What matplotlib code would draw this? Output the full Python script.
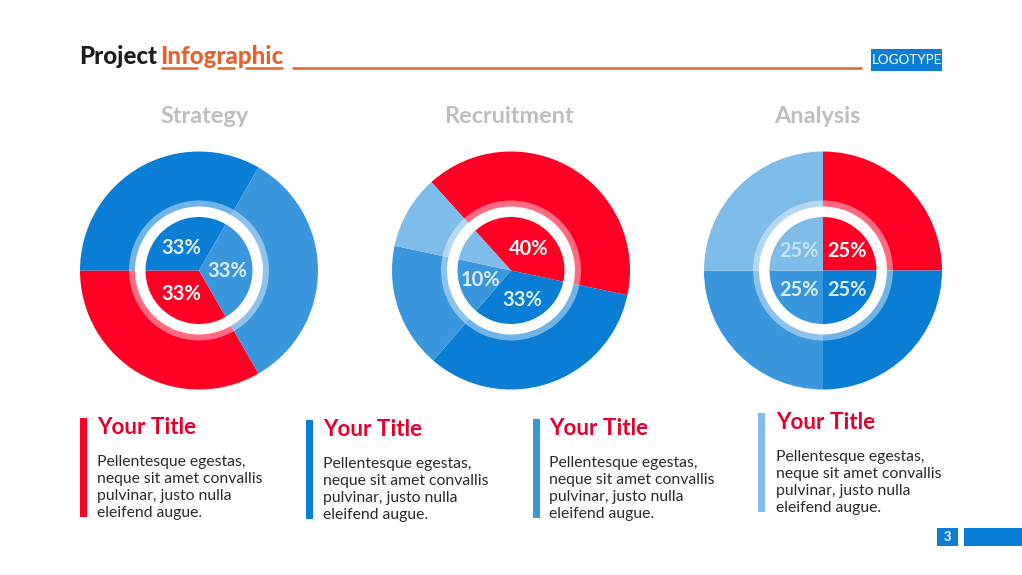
import matplotlib
matplotlib.use("Agg")
import matplotlib.pyplot as plt
from matplotlib.patches import Rectangle

W, H = 1022, 575

DARK = "#0a7ed4"
MID = "#3b97dd"
LIGHT = "#7fbce9"
RED = "#ff0025"
ORANGE = "#e5622d"
GREY = "#bfbfba"
PALE = "#dceefb"

pie_titles = ["Strategy", "Recruitment", "Analysis"]
strategy_values = [33, 33, 33]
recruitment_values = [40, 33, 17, 10]
analysis_values = [25, 25, 25, 25]
strategy_labels = ["33%", "33%", "33%"]
recruitment_labels = ["40%", "33%", "10%", ""]
analysis_labels = ["25%", "25%", "25%", "25%"]
card_title = "Your Title"
card_text = ["Pellentesque egestas,", "neque sit amet convallis", "pulvinar, justo nulla", "eleifend augue."]

# center x, start angle, colors, values, labels, label positions in pixels, label colors
PIES = [
    (199, 300, [RED, DARK, MID], strategy_values, strategy_labels,
     [(181, 294), (181, 248), (227, 271)], ["white", PALE, PALE]),
    (511, 132, [RED, DARK, MID, LIGHT], recruitment_values, recruitment_labels,
     [(529, 249), (522, 300), (480, 280), (0, 0)], ["white", PALE, PALE, PALE]),
    (823, 90, [RED, DARK, MID, LIGHT], analysis_values, analysis_labels,
     [(847, 251), (847, 290), (799, 290), (799, 251)], ["white", PALE, PALE, "#c9e2f5"]),
]
TITLE_X = [205, 509, 817]
# bar x, bar top, title x, title baseline, bar color
CARDS = [
    (80, 418, 97, 434, RED),
    (306, 420, 323, 436, DARK),
    (533, 419, 549, 435, MID),
    (758, 413, 776, 429, LIGHT),
]

plt.rcParams["font.family"] = ["Lato", "DejaVu Sans"]


def px(size):
    return size * 0.72


def y_(py):
    return H - py


fig = plt.figure(figsize=(W / 100, H / 100), dpi=100, facecolor="white")
ax = fig.add_axes([0, 0, 1, 1])

for cx, start, colors, values, labels, label_pos, label_colors in PIES:
    center = (cx, y_(270.5))
    ax.pie(values, colors=colors, startangle=start, counterclock=False,
           center=center, radius=119, normalize=True)
    # translucent halo and white ring over the slices
    ax.pie([1], colors=["white"], center=center, radius=70,
           wedgeprops=dict(width=6.5, alpha=0.42, linewidth=0))
    ax.pie([1], colors=["white"], center=center, radius=64,
           wedgeprops=dict(width=10.5, linewidth=0))
    for label, (lx, ly), lc in zip(labels, label_pos, label_colors):
        if label:
            ax.text(lx, y_(ly), label, color=lc, fontsize=px(20), fontweight="bold",
                    ha="center", va="center")

ax.set_xlim(0, W)
ax.set_ylim(0, H)
ax.set_aspect("auto")
ax.axis("off")

# header
ax.text(79, y_(64), "Project", color="#1c1c1c", fontsize=px(24), fontweight="black")
ax.text(160, y_(64), "Infographic", color=ORANGE, fontsize=px(24), fontweight="black")
for x0, x1 in [(161, 198), (217, 235), (245, 283), (292, 862)]:
    ax.plot([x0, x1], [y_(68), y_(68)], color=ORANGE, lw=1.8, solid_capstyle="butt")

ax.add_patch(Rectangle((871, y_(71)), 71, 22, color=DARK, lw=0))
ax.text(906.5, y_(60), "LOGOTYPE", color="white", fontsize=px(13.5),
        ha="center", va="center")

for title, tx in zip(pie_titles, TITLE_X):
    ax.text(tx, y_(123), title, color=GREY, fontsize=px(23.5), fontweight="bold", ha="center")

# text cards
for bar_x, bar_top, text_x, title_y, color in CARDS:
    ax.add_patch(Rectangle((bar_x, y_(bar_top + 99)), 6.5, 99, color=color, lw=0))
    ax.text(text_x, y_(title_y), card_title, color="#e4002b", fontsize=px(22.5), fontweight="bold")
    for i, line in enumerate(card_text):
        ax.text(text_x, y_(title_y + 32 + i * 17), line, color="#2a2a2a", fontsize=px(15.7))

# page number
ax.add_patch(Rectangle((937, y_(546)), 21, 18, color=DARK, lw=0))
ax.add_patch(Rectangle((964, y_(546)), 58, 18, color=DARK, lw=0))
ax.text(947.5, y_(537), "3", color="white", fontsize=px(13), fontweight="bold",
        ha="center", va="center")

fig.savefig("out.png", dpi=100)
